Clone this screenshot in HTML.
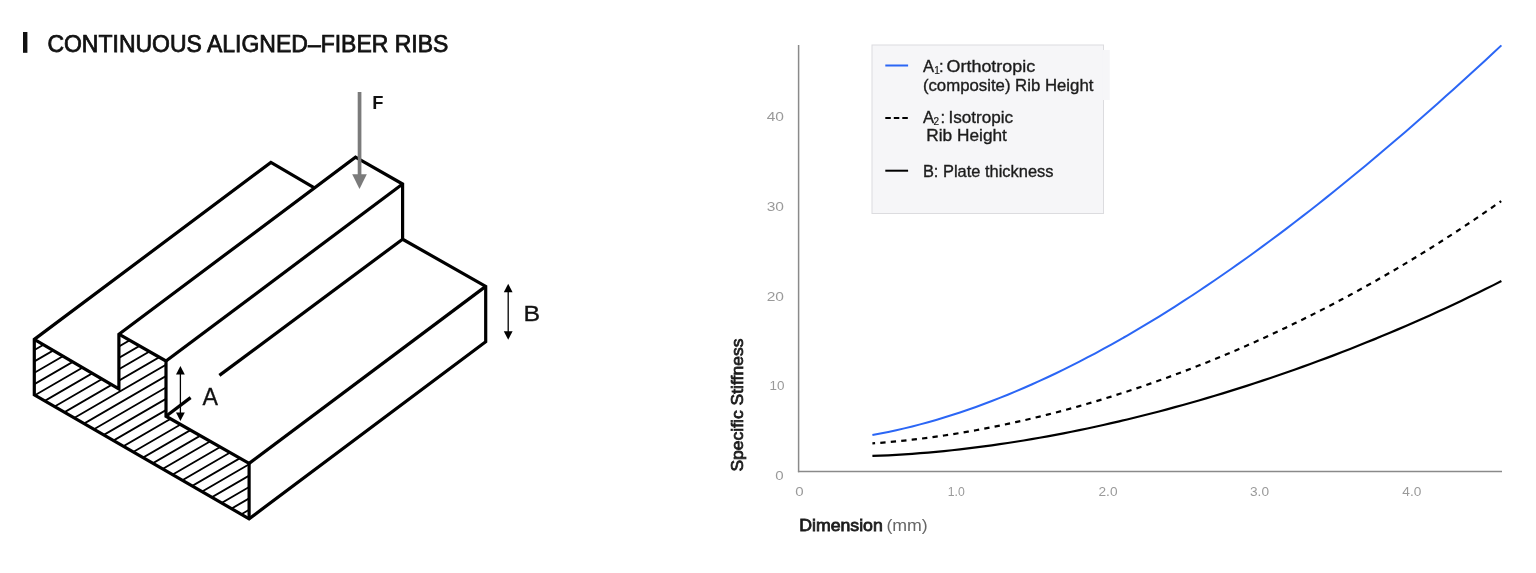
<!DOCTYPE html>
<html><head><meta charset="utf-8"><style>
html,body{margin:0;padding:0;background:#fff;}
body{width:1536px;height:573px;overflow:hidden;position:relative;font-family:"Liberation Sans",sans-serif;}
svg{position:absolute;left:0;top:0;will-change:transform;}
text{font-family:"Liberation Sans",sans-serif;}
</style></head><body>
<svg width="1536" height="573" viewBox="0 0 1536 573">
<rect x="23" y="32" width="4.4" height="20.8" fill="#111"/>
<text x="47.4" y="52.1" font-size="23.1" fill="#111" stroke="#111" stroke-width="0.75" textLength="401" lengthAdjust="spacingAndGlyphs">CONTINUOUS ALIGNED–FIBER RIBS</text>

<defs><clipPath id="cs"><polygon points="34.3,339.4 34.3,394.8 249.1,518.8 249.1,463.4 166.0,416.2 166.0,361.0 118.9,334.2 118.9,389.0"/></clipPath></defs>
<g clip-path="url(#cs)" stroke="#000" stroke-width="1.85" fill="none"><path d="M20,312.9 L260,173.7 M20,324.3 L260,185.1 M20,335.7 L260,196.5 M20,347.0 L260,207.8 M20,358.4 L260,219.2 M20,369.8 L260,230.6 M20,381.1 L260,241.9 M20,392.5 L260,253.3 M20,403.9 L260,264.7 M20,415.2 L260,276.1 M20,426.6 L260,287.4 M20,438.0 L260,298.8 M20,449.4 L260,310.2 M20,460.7 L260,321.5 M20,472.1 L260,332.9 M20,483.5 L260,344.3 M20,494.8 L260,355.6 M20,506.2 L260,367.0 M20,517.6 L260,378.4 M20,528.9 L260,389.8 M20,540.3 L260,401.1 M20,551.7 L260,412.5 M20,563.1 L260,423.9 M20,574.4 L260,435.2 M20,585.8 L260,446.6 M20,597.2 L260,458.0 M20,608.5 L260,469.3 M20,619.9 L260,480.7 M20,631.3 L260,492.1 M20,642.6 L260,503.5 M20,654.0 L260,514.8 M20,665.4 L260,526.2 M20,676.8 L260,537.6 M20,688.1 L260,548.9 M20,699.5 L260,560.3 M20,710.9 L260,571.7 M20,722.2 L260,583.0 M20,733.6 L260,594.4 M20,745.0 L260,605.8 M20,756.4 L260,617.2 M20,767.7 L260,628.5 M20,779.1 L260,639.9"/></g>
<g stroke="#000" stroke-width="3.2" fill="none" stroke-linejoin="miter" stroke-linecap="butt">
<path d="M314.4,187.9 L270.9,162.4 L34.3,339.4 L34.3,394.8 L249.1,518.8 L485.7,341.8 L485.7,286.4 L402.6,239.2 L402.6,184.0 L355.5,157.2 L118.9,334.2 L118.9,389.0 L34.3,339.4"/><path d="M249.1,518.8 L249.1,463.4 L166.0,416.2 L166.0,361.0 L118.9,334.2"/><path d="M166.0,361.0 L402.6,184.0"/><path d="M249.1,463.4 L485.7,286.4"/><path d="M166.0,416.2 L190.6,397.6"/><path d="M219.4,375.4 L402.6,239.2"/>
</g>

<!-- F arrow -->
<rect x="357.7" y="92" width="3.7" height="84" fill="#7b7b7b"/>
<polygon points="352.2,174.2 366.8,174.2 359.5,189" fill="#7b7b7b"/>
<text x="372.2" y="108.7" font-size="18.3" font-weight="bold" fill="#111">F</text>
<!-- A arrow -->
<line x1="180.4" y1="372" x2="180.4" y2="415" stroke="#000" stroke-width="1.3"/>
<polygon points="176,374.6 184.8,374.6 180.4,366.1" fill="#000"/>
<polygon points="176,412.6 184.8,412.6 180.4,421.1" fill="#000"/>
<text x="202.4" y="404.5" font-size="23.2" fill="#111" stroke="#111" stroke-width="0.3">A</text>
<!-- B arrow -->
<line x1="508.2" y1="290" x2="508.2" y2="333" stroke="#000" stroke-width="1.3"/>
<polygon points="503.8,292.2 512.6,292.2 508.2,283.7" fill="#000"/>
<polygon points="503.8,331.2 512.6,331.2 508.2,339.7" fill="#000"/>
<text x="523.6" y="320.6" font-size="22.6" fill="#111" stroke="#111" stroke-width="0.35" textLength="16.6" lengthAdjust="spacingAndGlyphs">B</text>

<!-- chart -->
<line x1="798.6" y1="45" x2="798.6" y2="472.3" stroke="#8a8a8a" stroke-width="1.5"/>
<line x1="797.95" y1="471.6" x2="1502" y2="471.6" stroke="#8a8a8a" stroke-width="1.5"/>
<g font-size="12.4" fill="#9a9a9a" text-anchor="middle">
<text x="779.5" y="479.6" textLength="8.4" lengthAdjust="spacingAndGlyphs">0</text>
<text x="777" y="390.1" textLength="15" lengthAdjust="spacingAndGlyphs">10</text>
<text x="775.3" y="300.6" textLength="17.3" lengthAdjust="spacingAndGlyphs">20</text>
<text x="775.3" y="211" textLength="17.3" lengthAdjust="spacingAndGlyphs">30</text>
<text x="775.3" y="121.4" textLength="17.3" lengthAdjust="spacingAndGlyphs">40</text>
<text x="799.4" y="496" textLength="8.4" lengthAdjust="spacingAndGlyphs">0</text>
<text x="956.2" y="496" textLength="17" lengthAdjust="spacingAndGlyphs">1.0</text>
<text x="1108" y="496" textLength="19" lengthAdjust="spacingAndGlyphs">2.0</text>
<text x="1259.5" y="496" textLength="19" lengthAdjust="spacingAndGlyphs">3.0</text>
<text x="1411.8" y="496" textLength="19" lengthAdjust="spacingAndGlyphs">4.0</text>
</g>
<text x="799.2" y="530.7" font-size="17" fill="#1c1c1c" stroke="#1c1c1c" stroke-width="0.8" textLength="83.6" lengthAdjust="spacingAndGlyphs">Dimension</text>
<text x="886.4" y="530.9" font-size="17" fill="#666" textLength="41.4" lengthAdjust="spacingAndGlyphs">(mm)</text>
<text transform="translate(743,471.6) rotate(-90)" font-size="16.2" fill="#1c1c1c" stroke="#1c1c1c" stroke-width="0.75" textLength="133" lengthAdjust="spacingAndGlyphs">Specific Stiffness</text>

<path d="M872.40,435.06 L880.36,433.56 L888.32,431.95 L896.29,430.22 L904.25,428.39 L912.21,426.43 L920.17,424.37 L928.13,422.20 L936.10,419.92 L944.06,417.53 L952.02,415.04 L959.98,412.44 L967.94,409.74 L975.91,406.94 L983.87,404.03 L991.83,401.02 L999.79,397.92 L1007.75,394.71 L1015.72,391.41 L1023.68,388.01 L1031.64,384.52 L1039.60,380.93 L1047.56,377.25 L1055.53,373.48 L1063.49,369.61 L1071.45,365.66 L1079.41,361.62 L1087.37,357.48 L1095.34,353.27 L1103.30,348.96 L1111.26,344.58 L1119.22,340.11 L1127.18,335.55 L1135.15,330.91 L1143.11,326.20 L1151.07,321.40 L1159.03,316.53 L1166.99,311.57 L1174.96,306.54 L1182.92,301.44 L1190.88,296.25 L1198.84,291.00 L1206.81,285.67 L1214.77,280.27 L1222.73,274.80 L1230.69,269.26 L1238.65,263.65 L1246.62,257.97 L1254.58,252.22 L1262.54,246.41 L1270.50,240.53 L1278.46,234.59 L1286.43,228.58 L1294.39,222.51 L1302.35,216.38 L1310.31,210.19 L1318.27,203.93 L1326.24,197.62 L1334.20,191.25 L1342.16,184.82 L1350.12,178.33 L1358.08,171.79 L1366.05,165.19 L1374.01,158.54 L1381.97,151.84 L1389.93,145.08 L1397.89,138.27 L1405.86,131.41 L1413.82,124.50 L1421.78,117.54 L1429.74,110.53 L1437.70,103.47 L1445.67,96.37 L1453.63,89.22 L1461.59,82.03 L1469.55,74.79 L1477.51,67.50 L1485.48,60.17 L1493.44,52.81 L1501.40,45.39" stroke="#2b66f5" stroke-width="2" fill="none"/>
<path d="M872.40,443.38 L880.36,442.78 L888.32,442.11 L896.28,441.37 L904.24,440.57 L912.20,439.69 L920.16,438.74 L928.12,437.72 L936.08,436.64 L944.04,435.48 L951.99,434.26 L959.95,432.98 L967.91,431.63 L975.87,430.21 L983.83,428.73 L991.79,427.19 L999.75,425.58 L1007.71,423.91 L1015.67,422.17 L1023.63,420.38 L1031.59,418.52 L1039.55,416.60 L1047.51,414.62 L1055.47,412.58 L1063.43,410.47 L1071.39,408.31 L1079.35,406.08 L1087.31,403.80 L1095.27,401.46 L1103.23,399.05 L1111.18,396.59 L1119.14,394.07 L1127.10,391.48 L1135.06,388.84 L1143.02,386.14 L1150.98,383.39 L1158.94,380.57 L1166.90,377.69 L1174.86,374.76 L1182.82,371.76 L1190.78,368.71 L1198.74,365.60 L1206.70,362.43 L1214.66,359.20 L1222.62,355.91 L1230.58,352.56 L1238.54,349.15 L1246.50,345.68 L1254.46,342.16 L1262.42,338.57 L1270.37,334.92 L1278.33,331.21 L1286.29,327.44 L1294.25,323.61 L1302.21,319.72 L1310.17,315.77 L1318.13,311.75 L1326.09,307.67 L1334.05,303.53 L1342.01,299.32 L1349.97,295.06 L1357.93,290.72 L1365.89,286.32 L1373.85,281.86 L1381.81,277.33 L1389.77,272.74 L1397.73,268.08 L1405.69,263.35 L1413.65,258.55 L1421.61,253.68 L1429.56,248.75 L1437.52,243.74 L1445.48,238.66 L1453.44,233.52 L1461.40,228.30 L1469.36,223.00 L1477.32,217.64 L1485.28,212.20 L1493.24,206.68 L1501.20,201.09" stroke="#000" stroke-width="2.2" fill="none" stroke-dasharray="5.3 5.2" stroke-dashoffset="2.58"/>
<path d="M872.40,455.95 L880.36,455.65 L888.32,455.28 L896.29,454.85 L904.25,454.37 L912.21,453.82 L920.17,453.22 L928.13,452.56 L936.10,451.85 L944.06,451.08 L952.02,450.26 L959.98,449.38 L967.94,448.45 L975.91,447.46 L983.87,446.43 L991.83,445.34 L999.79,444.20 L1007.75,443.01 L1015.72,441.77 L1023.68,440.49 L1031.64,439.15 L1039.60,437.76 L1047.56,436.33 L1055.53,434.85 L1063.49,433.32 L1071.45,431.75 L1079.41,430.13 L1087.37,428.46 L1095.34,426.75 L1103.30,424.99 L1111.26,423.19 L1119.22,421.34 L1127.18,419.45 L1135.15,417.51 L1143.11,415.53 L1151.07,413.51 L1159.03,411.44 L1166.99,409.33 L1174.96,407.17 L1182.92,404.98 L1190.88,402.74 L1198.84,400.45 L1206.81,398.13 L1214.77,395.76 L1222.73,393.35 L1230.69,390.89 L1238.65,388.40 L1246.62,385.86 L1254.58,383.28 L1262.54,380.65 L1270.50,377.99 L1278.46,375.28 L1286.43,372.52 L1294.39,369.73 L1302.35,366.89 L1310.31,364.01 L1318.27,361.08 L1326.24,358.11 L1334.20,355.10 L1342.16,352.04 L1350.12,348.94 L1358.08,345.79 L1366.05,342.60 L1374.01,339.36 L1381.97,336.08 L1389.93,332.75 L1397.89,329.38 L1405.86,325.95 L1413.82,322.49 L1421.78,318.97 L1429.74,315.41 L1437.70,311.80 L1445.67,308.14 L1453.63,304.43 L1461.59,300.67 L1469.55,296.86 L1477.51,293.00 L1485.48,289.08 L1493.44,285.12 L1501.40,281.10" stroke="#000" stroke-width="2.2" fill="none"/>

<!-- legend -->
<rect x="872" y="45" width="231.5" height="168.5" fill="#f6f6f8" stroke="#dcdcdf" stroke-width="1"/>
<rect x="1102.8" y="50" width="6.9" height="50" fill="#f6f6f8"/>
<line x1="885.3" y1="65.5" x2="908.1" y2="65.5" stroke="#2b66f5" stroke-width="2"/>
<line x1="885.3" y1="118" x2="908.1" y2="118" stroke="#000" stroke-width="2" stroke-dasharray="5.5 3"/>
<line x1="885.3" y1="170.7" x2="908.1" y2="170.7" stroke="#000" stroke-width="2"/>
<g font-size="16.6" fill="#1c1c1c" stroke="#1c1c1c" stroke-width="0.35">
<text x="922.9" y="72.2">A</text>
<text x="934.3" y="74.4" font-size="10" stroke-width="0.2">1</text>
<text x="939" y="72.2">:</text>
<text x="946.6" y="72.2" textLength="88.5" lengthAdjust="spacingAndGlyphs">Orthotropic</text>
<text x="922.9" y="90.7" textLength="170.5" lengthAdjust="spacingAndGlyphs">(composite) Rib Height</text>
<text x="922.9" y="123.1">A</text>
<text x="933.6" y="124.6" font-size="10" stroke-width="0.2">2</text>
<text x="940.6" y="123.1">:</text>
<text x="948.5" y="123.1" textLength="64.6" lengthAdjust="spacingAndGlyphs">Isotropic</text>
<text x="926.3" y="140.7" textLength="80.6" lengthAdjust="spacingAndGlyphs">Rib Height</text>
<text x="922.9" y="176.8" textLength="130.6" lengthAdjust="spacingAndGlyphs">B: Plate thickness</text>
</g>
</svg>
</body></html>
